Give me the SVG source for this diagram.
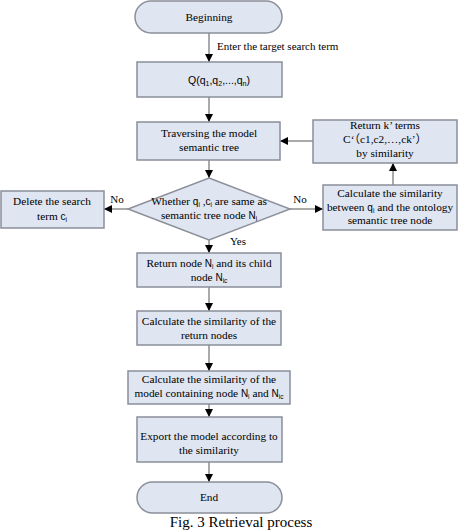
<svg xmlns="http://www.w3.org/2000/svg" width="474" height="532" viewBox="0 0 474 532">
<defs>
<marker id="ah" markerWidth="8" markerHeight="8" refX="8" refY="4" orient="auto" markerUnits="userSpaceOnUse">
<path d="M0,0 L8,4 L0,8 z" fill="#000"/>
</marker>
<style>
.b{fill:#dfe5f1;stroke:#8a8f99;stroke-width:1.5}
.t{font-family:"Liberation Serif","Times New Roman",serif;font-size:11.3px;fill:#000;text-anchor:middle}
.s{font-family:"Liberation Sans",Arial,sans-serif}
.c{stroke:#555;stroke-width:1;fill:none;marker-end:url(#ah)}
</style>
</defs>
<rect width="474" height="532" fill="#fff"/>
<g id="connectors">
<line class="c" x1="209" y1="33" x2="209" y2="62"/>
<line class="c" x1="209" y1="97" x2="209" y2="122"/>
<line class="c" x1="209" y1="160" x2="209" y2="178"/>
<line class="c" x1="209" y1="240" x2="209" y2="253"/>
<line class="c" x1="209" y1="287" x2="209" y2="311"/>
<line class="c" x1="209" y1="345" x2="209" y2="371"/>
<line class="c" x1="209" y1="404" x2="209" y2="417"/>
<line class="c" x1="209" y1="462" x2="209" y2="482"/>
<line class="c" x1="128" y1="209" x2="104" y2="209"/>
<line class="c" x1="290" y1="209" x2="323" y2="209"/>
<line class="c" x1="393" y1="185" x2="393" y2="163"/>
<line class="c" x1="313" y1="141" x2="280" y2="141"/>
<text class="t" x="217" y="50" style="text-anchor:start;font-size:11px">Enter the target search term</text>
<text class="t" x="117" y="203" style="font-size:11px">No</text>
<text class="t" x="300" y="203" style="font-size:11px">No</text>
<text class="t" x="238" y="245" style="font-size:11px">Yes</text>
</g>
<g id="beginning">
<rect class="b" x="135" y="1" width="147" height="32" rx="16"/>
<text class="t" x="209" y="21">Beginning</text>
</g>
<g id="query">
<rect class="b" x="137" y="62" width="145" height="35"/>
<text class="t s" x="219" y="84" style="font-size:10.5px">Q(q<tspan font-size="7" dy="2">1</tspan><tspan dy="-2">,q</tspan><tspan font-size="7" dy="2">2</tspan><tspan dy="-2">,...,q</tspan><tspan font-size="7" dy="2">n</tspan><tspan dy="-2">)</tspan></text>
</g>
<g id="traverse">
<rect class="b" x="137" y="122" width="143" height="38"/>
<text class="t" x="209" y="137">Traversing the model</text>
<text class="t" x="209" y="151">semantic tree</text>
</g>
<g id="decision">
<polygon class="b" points="209,178 290,209 209,240 128,209"/>
<text class="t" x="209" y="205">Whether <tspan class="s" font-size="10">q</tspan><tspan class="s" font-size="6.5" dy="2">i</tspan><tspan dy="-2"> ,</tspan><tspan class="s" font-size="10">c</tspan><tspan class="s" font-size="6.5" dy="2">i</tspan><tspan dy="-2"> are same as</tspan></text>
<text class="t" x="209" y="219">semantic tree node <tspan class="s" font-size="10">N</tspan><tspan class="s" font-size="6.5" dy="2">i</tspan></text>
</g>
<g id="delete">
<rect class="b" x="1" y="191" width="103" height="37"/>
<text class="t" x="52" y="205">Delete the search</text>
<text class="t" x="52" y="220">term <tspan class="s" font-size="10">c</tspan><tspan class="s" font-size="6.5" dy="2">i</tspan></text>
</g>
<g id="calc-ontology">
<rect class="b" x="323" y="185" width="134" height="45"/>
<text class="t" x="390" y="197">Calculate the similarity</text>
<text class="t" x="390" y="211">between <tspan class="s" font-size="10">q</tspan><tspan class="s" font-size="6.5" dy="2">i</tspan><tspan dy="-2"> and the ontology</tspan></text>
<text class="t" x="390" y="224">semantic tree node</text>
</g>
<g id="return-k">
<rect class="b" x="313" y="120" width="144" height="43"/>
<text class="t" x="385" y="129">Return k’ terms</text>
<text class="t" x="385" y="143" style="font-family:'Liberation Serif','Noto Sans CJK SC',serif">C‘（c1,c2,…,ck’）</text>
<text class="t" x="385" y="157">by  similarity</text>
</g>
<g id="return-node">
<rect class="b" x="137" y="253" width="144" height="34"/>
<text class="t" x="209" y="267">Return node <tspan class="s" font-size="10">N</tspan><tspan class="s" font-size="6.5" dy="2">i</tspan><tspan dy="-2"> and its child</tspan></text>
<text class="t" x="209" y="281">node <tspan class="s" font-size="10">N</tspan><tspan class="s" font-size="6.5" dy="2">ic</tspan></text>
</g>
<g id="calc-return">
<rect class="b" x="137" y="311" width="144" height="34"/>
<text class="t" x="209" y="325">Calculate the similarity of the</text>
<text class="t" x="209" y="339">return nodes</text>
</g>
<g id="calc-model">
<rect class="b" x="128" y="371" width="162" height="33"/>
<text class="t" x="209" y="383">Calculate the similarity of the</text>
<text class="t" x="209" y="397">model containing node <tspan class="s" font-size="10">N</tspan><tspan class="s" font-size="6.5" dy="2">i</tspan><tspan dy="-2"> and </tspan><tspan class="s" font-size="10">N</tspan><tspan class="s" font-size="6.5" dy="2">ic</tspan></text>
</g>
<g id="export">
<rect class="b" x="137" y="417" width="145" height="45"/>
<text class="t" x="209" y="440">Export the model according to</text>
<text class="t" x="209" y="454">the similarity</text>
</g>
<g id="end">
<rect class="b" x="137" y="482" width="145" height="31" rx="15.5"/>
<text class="t" x="209" y="501">End</text>
</g>
<text class="t" x="241" y="527" style="font-size:15px">Fig. 3 Retrieval process</text>
</svg>
